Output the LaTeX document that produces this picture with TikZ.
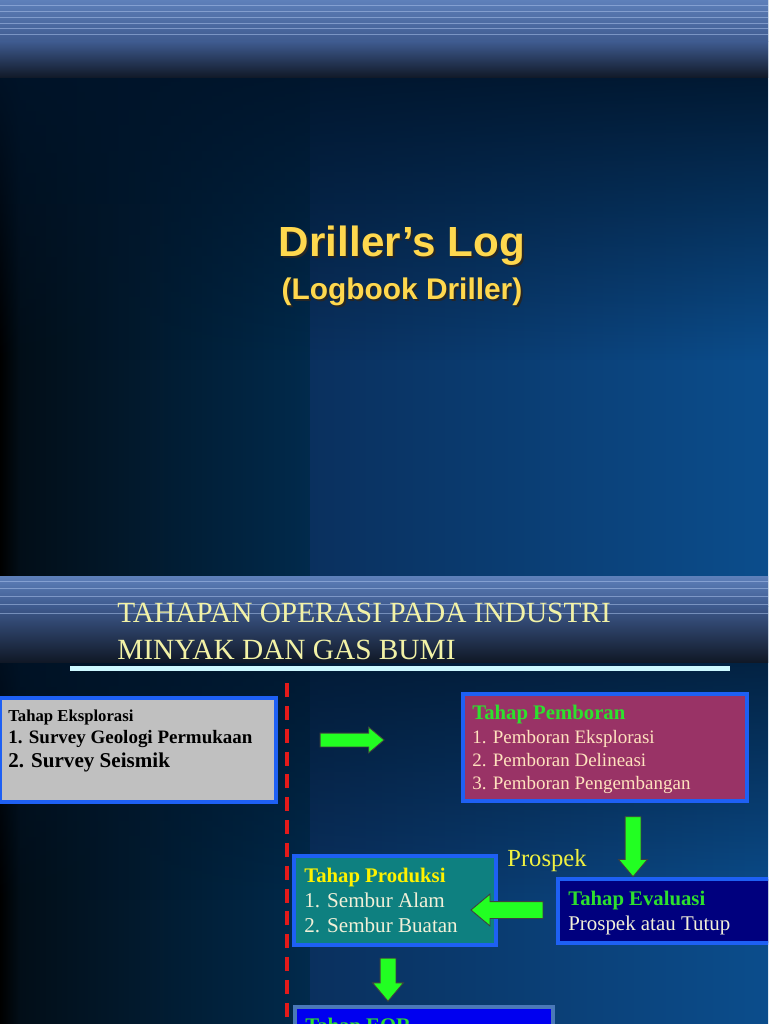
\documentclass[tikz,border=0pt]{standalone}
\usepackage{fontspec}
\setmainfont{Liberation Serif}
\newfontfamily\slidesans{Liberation Sans}
\usetikzlibrary{shapes.arrows,fit,fadings}

\definecolor{bgleft}{HTML}{020E18}
\definecolor{bgmid}{HTML}{012A4C}
\definecolor{bgmidright}{HTML}{0A305E}
\definecolor{bgright}{HTML}{0B4D8C}
\definecolor{bgtop}{HTML}{00142A}
\definecolor{bannerlight}{HTML}{5E80BA}
\definecolor{bannermid}{HTML}{3E5A8E}
\definecolor{bannerdark}{HTML}{101826}
\definecolor{stripe}{HTML}{A8C0EA}
\definecolor{titleyellow}{HTML}{FFD84E}
\definecolor{headyellow}{HTML}{F2F2A6}
\definecolor{rulecyan}{HTML}{CCF8FF}
\definecolor{dashred}{HTML}{E41A1A}
\definecolor{boxline}{HTML}{1E60F4}
\definecolor{grayfill}{HTML}{C0C0C0}
\definecolor{pemboranfill}{HTML}{993366}
\definecolor{produksifill}{HTML}{0E8080}
\definecolor{evaluasifill}{HTML}{00007E}
\definecolor{eorfill}{HTML}{0000F0}
\definecolor{eorline}{HTML}{4A78B8}
\definecolor{stagegreen}{HTML}{2EE02E}
\definecolor{arrowgreen}{HTML}{22FF22}
\definecolor{creamtext}{HTML}{FFE2BE}
\definecolor{lighttext}{HTML}{F2F0D8}
\definecolor{prospekyellow}{HTML}{F0F040}

\tikzset{
  stagebox/.style={draw=boxline, line width=2pt, inner sep=0pt},
  blockarrow/.style={single arrow, draw=black!75, fill=arrowgreen, line width=0.5pt,
    inner xsep=0pt, single arrow tip angle=80},
  bannerline/.style={line width=0.5pt, color=stripe, opacity=0.55},
  itemtext/.style={anchor=base west, inner sep=0pt},
}

\begin{document}
\begin{tikzpicture}[x=0.02cm, y=-0.02cm]
			%%%%% START %%%%%
			\clip (0,0) rectangle (768,1024);
			
			% background of both slides
			\shade[left color=black, right color=bgleft] (0,0) rectangle (20,1024);
			\shade[left color=bgleft, right color=bgmid] (20,0) rectangle (310,1024);
			\shade[left color=bgmidright, right color=bgright] (310,0) rectangle (768,1024);
			\fill[bgtop, path fading=south, opacity=0.9] (0,78) rectangle (768,360);
			\fill[bgtop, path fading=south, opacity=0.75] (0,660) rectangle (768,900);
			
			% first slide
			\shade[top color=bannerlight, bottom color=bannermid] (0,0) rectangle (768,42);
			\shade[top color=bannermid, bottom color=bannerdark] (0,42) rectangle (768,78);
			\draw[bannerline] (0,5) -- (768,5);
			\draw[bannerline] (0,11) -- (768,11);
			\draw[bannerline] (0,17) -- (768,17);
			\draw[bannerline] (0,23) -- (768,23);
			\draw[bannerline] (0,28) -- (768,28);
			\draw[bannerline] (0,34) -- (768,34);
			
			\node[anchor=base, text=black!85, font=\slidesans\bfseries\fontsize{24}{28}\selectfont] (logShadow) at (404,258) {Driller’s Log};
			\node[anchor=base, text=titleyellow, font=\slidesans\bfseries\fontsize{24}{28}\selectfont] (logTitle) at (402,256) {Driller’s Log};
			\node[anchor=base, text=black!85, font=\slidesans\bfseries\fontsize{17}{20}\selectfont] (logbookShadow) at (404,301) {(Logbook Driller)};
			\node[anchor=base, text=titleyellow, font=\slidesans\bfseries\fontsize{17}{20}\selectfont] (logbookTitle) at (402,299) {(Logbook Driller)};
			
			% second slide
			\shade[top color=bannerlight, bottom color=bannermid] (0,576) rectangle (768,606);
			\shade[top color=bannermid, bottom color=bannerdark] (0,606) rectangle (768,662);
			\draw[bannerline] (0,581) -- (768,581);
			\draw[bannerline] (0,588) -- (768,588);
			\draw[bannerline] (0,596) -- (768,596);
			\draw[bannerline] (0,604) -- (768,604);
			\draw[bannerline] (0,613) -- (768,613);
			
			\node[itemtext, text=headyellow, font=\fontsize{16.7}{20}\selectfont] (stageTitleOne) at (117,622) {TAHAPAN OPERASI PADA INDUSTRI};
			\node[itemtext, text=headyellow, font=\fontsize{16.7}{20}\selectfont] (stageTitleTwo) at (117,659) {MINYAK DAN GAS BUMI};
			\fill[rulecyan] (70,666) rectangle (730,671);
			
			\draw[dashred, line width=2.1pt, dash pattern=on 8pt off 5pt] (287,683) -- (287,1030);
			
			% stage boxes
			\node[stagebox, fill=grayfill, fit={(0,698) (276,802)}] (eksplorasi) {};
			\node[itemtext, font=\bfseries\fontsize{9.5}{11}\selectfont] (eksplorasiHead) at (8,721) {Tahap Eksplorasi};
			\node[itemtext, font=\bfseries\fontsize{10.8}{13}\selectfont] (eksplorasiOne) at (8,743) {1. Survey Geologi Permukaan};
			\node[itemtext, font=\bfseries\fontsize{12}{14}\selectfont] (eksplorasiTwo) at (8,767) {2. Survey Seismik};
			
			\node[stagebox, fill=pemboranfill, fit={(463,694) (747,801)}] (pemboran) {};
			\node[itemtext, text=stagegreen, font=\bfseries\fontsize{11.8}{14}\selectfont] (pemboranHead) at (472,719) {Tahap Pemboran};
			\node[itemtext, text=creamtext, font=\fontsize{10.8}{13}\selectfont] (pemboranOne) at (472,743) {1. Pemboran Eksplorasi};
			\node[itemtext, text=creamtext, font=\fontsize{10.8}{13}\selectfont] (pemboranTwo) at (472,766) {2. Pemboran Delineasi};
			\node[itemtext, text=creamtext, font=\fontsize{10.8}{13}\selectfont] (pemboranThree) at (472,789) {3. Pemboran Pengembangan};
			
			\node[stagebox, fill=evaluasifill, fit={(558,879) (800,943)}] (evaluasi) {};
			\node[itemtext, text=stagegreen, font=\bfseries\fontsize{11.8}{14}\selectfont] (evaluasiHead) at (568,905) {Tahap Evaluasi};
			\node[itemtext, text=lighttext, font=\fontsize{11.9}{14}\selectfont] (evaluasiOne) at (568,930) {Prospek atau Tutup};
			
			\node[stagebox, fill=produksifill, fit={(294,856) (496,945)}] (produksi) {};
			\node[itemtext, text=yellow, font=\bfseries\fontsize{11.8}{14}\selectfont] (produksiHead) at (304,882) {Tahap Produksi};
			\node[itemtext, text=lighttext, font=\fontsize{12}{14}\selectfont] (produksiOne) at (304,907) {1. Sembur Alam};
			\node[itemtext, text=lighttext, font=\fontsize{12}{14}\selectfont] (produksiTwo) at (304,932) {2. Sembur Buatan};
			
			\node[stagebox, draw=eorline, fill=eorfill, fit={(295,1007) (553,1090)}] (eor) {};
			\node[itemtext, text=stagegreen, font=\bfseries\fontsize{11.8}{14}\selectfont] (eorHead) at (305,1032) {Tahap EOR};
			
			\node[itemtext, text=prospekyellow, font=\fontsize{14}{16}\selectfont] (prospekLabel) at (507,866) {Prospek};
			
			% green arrows
			\node[blockarrow, inner ysep=0.13cm, minimum height=1.28cm, minimum width=0.5cm, single arrow head extend=0.12cm] (toPemboran) at (348,740) {};
			\node[blockarrow, rotate=-90, inner ysep=0.15cm, minimum height=1.2cm, minimum width=0.56cm, single arrow head extend=0.13cm] (toEvaluasi) at (633,842) {};
			\node[blockarrow, rotate=180, inner ysep=0.16cm, minimum height=1.44cm, minimum width=0.62cm, single arrow head extend=0.15cm] (toProduksi) at (512,910) {};
			\node[blockarrow, rotate=-90, inner ysep=0.15cm, minimum height=0.86cm, minimum width=0.6cm, single arrow head extend=0.15cm] (toEor) at (388,975) {};
			
			%%%%% END %%%%%
\end{tikzpicture}
\end{document}
